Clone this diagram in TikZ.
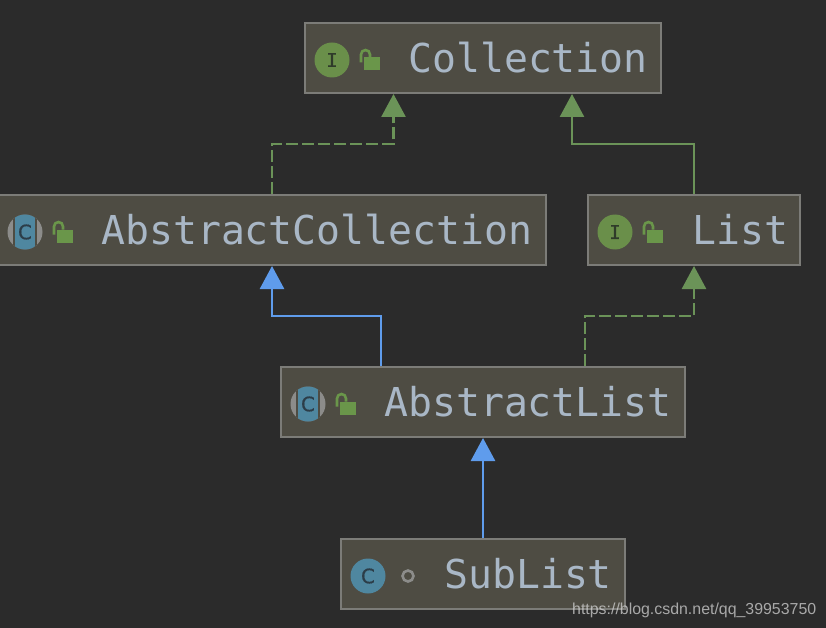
\documentclass[tikz,border=0pt]{standalone}
\usepackage{fontspec}
\setmonofont{DejaVu Sans Mono}
\setsansfont{Liberation Sans}
\newfontfamily\iconfont[FakeBold=0.6]{DejaVu Sans}
\newfontfamily\iconmono[FakeBold=0.8]{DejaVu Sans Mono}
\usetikzlibrary{arrows.meta}
\definecolor{bgc}{HTML}{2B2B2B}
\definecolor{boxc}{HTML}{4E4C43}
\definecolor{edgec}{HTML}{7C7C78}
\definecolor{txtc}{HTML}{A9B7C6}
\definecolor{grn}{HTML}{6A8F4A}
\definecolor{lockc}{HTML}{6A964A}
\definecolor{arrg}{HTML}{6B9358}
\definecolor{blu}{HTML}{5F9CEC}
\definecolor{clsc}{HTML}{4F87A0}
\definecolor{icont}{HTML}{2C3D48}
\definecolor{icong}{HTML}{8C8C8A}
\definecolor{itxt}{HTML}{2F3B2A}
\tikzset{
  umlbox/.style={draw=edgec,fill=boxc,line width=2pt,minimum height=70pt,inner sep=0pt},
  label/.style={anchor=base west,inner sep=0pt,text=txtc,font=\fontsize{39.8pt}{40pt}\selectfont\ttfamily},
  ifc/.style={circle,fill=grn,minimum size=35pt,inner sep=0pt,text=itxt,font=\fontsize{19pt}{20pt}\selectfont\iconmono},
  cls/.style={circle,fill=clsc,minimum size=35pt,inner sep=0pt,text=icont,font=\fontsize{20pt}{20pt}\selectfont\iconfont},
  abscls/.style={circle,fill=icong,minimum size=35pt,inner sep=0pt},
  abstxt/.style={inner sep=0pt,text=icont,font=\fontsize{20pt}{20pt}\selectfont\iconfont},
  conn/.style={line width=2.6pt,-{Triangle[length=23pt,width=24pt]}},
  solidg/.style={conn,draw=arrg},
  dashg/.style={solidg,dash pattern=on 12pt off 4pt},
  solidb/.style={conn,draw=blu},
  watermark/.style={anchor=base west,inner sep=0pt,text=black!15!white,opacity=.72,font=\fontsize{15.9pt}{17pt}\selectfont\sffamily},
  lockb/.style={fill=lockc,inner sep=0pt,minimum width=16pt,minimum height=13pt},
}
\newcommand{\openlock}[3]{%
  \node[lockb] (#1) at (#2,#3) {};
  \draw[lockc,line width=2.6pt] (#2-11,#3-1.5) -- (#2-11,#3-9.5) arc[start angle=180,end angle=0,radius=4.5pt] -- (#2-2,#3-6.5);
}
\newcommand{\absicon}[3]{%
  \node[abscls] (#1) at (#2,#3) {};
  \begin{scope}
    \clip (#2,#3) circle[radius=17.5pt];
    \fill[boxc] (#2-12,#3-18) rectangle (#2+12,#3+18);
    \fill[clsc] (#2-10,#3-18) rectangle (#2+10,#3+18);
  \end{scope}
  \node[abstxt] (#1t) at (#2,#3) {C};
}
\begin{document}
\begin{tikzpicture}[x=1pt,y=-1pt]
\useasboundingbox (0,0) rectangle (826,628);
\fill[bgc] (0,0) rectangle (826,628);
\clip (0,0) rectangle (826,628);
% boxes
\node[umlbox,minimum width=356pt] (coll) at (483,58) {};
\node[umlbox,minimum width=551pt] (absc) at (270.5,230) {};
\node[umlbox,minimum width=212pt] (list) at (694,230) {};
\node[umlbox,minimum width=404pt] (absl) at (483,402) {};
\node[umlbox,minimum width=284pt] (sub) at (483,574) {};
% connectors
\draw[dashg] ([xshift=1.5pt]absc.north) |- ++(0,-50) -| ([xshift=-89.5pt]coll.south);
\draw[solidg] (list.north) |- ++(0,-50) -| ([xshift=89pt]coll.south);
\draw[solidb] ([xshift=-102pt]absl.north) |- ++(0,-50) -| ([xshift=1.5pt]absc.south);
\draw[dashg] ([xshift=102pt]absl.north) |- ++(0,-50) -| (list.south);
\draw[solidb] (sub.north) -- (absl.south);
% Collection
\node[ifc] (icoll) at (332,60) {I};
\openlock{lcoll}{372}{64}
\node[label] (tcoll) at (408,72.5) {Collection};
% AbstractCollection
\absicon{iabsc}{25}{232}
\openlock{labsc}{65}{236}
\node[label] (tabsc) at (101,244.5) {AbstractCollection};
% List
\node[ifc] (ilist) at (615,232) {I};
\openlock{llist}{655}{236}
\node[label] (tlist) at (692,244.5) {List};
% AbstractList
\absicon{iabsl}{308}{404}
\openlock{labsl}{348}{408}
\node[label] (tabsl) at (384,416.5) {AbstractList};
% SubList
\node[cls] (isub) at (368,576) {C};
\node[draw=icong,circle,line width=2.6pt,minimum size=11pt,inner sep=0pt] (msub) at (408,576) {};
\node[label] (tsub) at (444,588.5) {SubList};
% watermark
\node[watermark] (wm) at (572,614) {https://blog.csdn.net/qq\_39953750};
\end{tikzpicture}
\end{document}
